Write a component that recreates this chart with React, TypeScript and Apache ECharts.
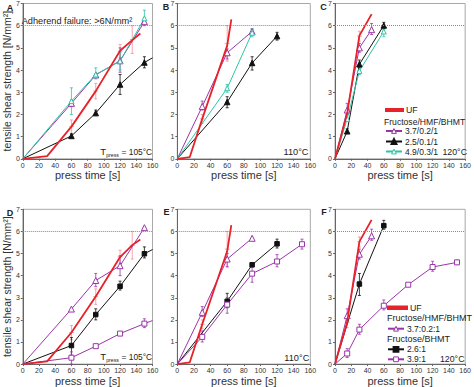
import React, { useEffect, useRef } from 'react';
import * as echarts from 'echarts';

// ---------------- data ----------------
// x: press time [s], y: tensile shear strength [N/mm²]
const X_MIN = 0, X_MAX = 160, X_STEP = 20;
const Y_MIN = 0, Y_MAX = 7, Y_STEP = 1;
const ADHEREND_LIMIT = 6;

// Panel A (105 °C), Fructose/HMF/BHMT
const A_UF = [[0, 0], [30, 0.12], [60, 1.45], [90, 3.05], [120, 4.87], [135, 5.35], [145, 5.65]];
const A_P = [[0, 0], [60, 2.5], [90, 3.78], [120, 4.42], [150, 6.18]];
const A_K = [[0, 0], [60, 1.03], [90, 2.06], [120, 3.35], [150, 4.34], [160, 4.55]];
const A_C = [[0, 0], [60, 2.6], [90, 3.8], [120, 4.4], [150, 6.33]];
// Panel B (110 °C)
const B_UF = [[0, 0], [15, 0.08], [30, 1.8], [60, 5.1], [65, 6.28]];
const B_P = [[0, 0], [30, 2.36], [60, 4.78], [90, 5.74]];
const B_K = [[0, 0], [60, 2.56], [90, 4.32], [120, 5.53]];
const B_C = [[0, 0], [60, 3.18], [90, 5.68]];
// Panel C (120 °C)
const C_UF = [[0, 0], [15, 2.05], [30, 5.55], [45, 6.52]];
const C_P = [[0, 0], [15, 2.2], [30, 5.0], [45, 5.82]];
const C_K = [[0, 0], [15, 1.24], [30, 4.26], [60, 6.01]];
const C_C = [[0, 0], [15, 1.8], [30, 3.96], [60, 5.74]];
// Panel D (105 °C), Fructose/BHMT
const D_UF = [[0, 0], [30, 0.12], [60, 1.43], [90, 3.06], [120, 4.84], [135, 5.38], [145, 5.63]];
const D_P = [[0, 0], [60, 2.49], [90, 3.78], [120, 4.45], [150, 6.17]];
const D_K = [[0, 0], [60, 0.84], [90, 2.24], [120, 3.52], [150, 4.99], [160, 5.18]];
const D_Q = [[0, 0], [60, 0.29], [90, 0.81], [120, 1.38], [150, 1.83], [160, 1.97]];
// Panel E (110 °C)
const E_UF = [[0, 0], [15, 0.08], [30, 1.8], [60, 5.1], [65, 6.28]];
const E_P = [[0, 0], [30, 2.34], [60, 4.75], [90, 5.69]];
const E_K = [[0, 0], [60, 2.84], [90, 4.49], [120, 5.44]];
const E_Q = [[0, 0], [30, 1.23], [60, 2.69], [90, 4.09], [120, 4.64], [150, 5.42]];
// Panel F (120 °C)
const F_UF = [[0, 0], [15, 1.9], [30, 5.54], [45, 6.52]];
const F_P = [[0, 0], [15, 2.19], [30, 4.97], [45, 5.8]];
const F_K = [[0, 0], [30, 3.62], [60, 6.26]];
const F_Q = [[0, 0], [15, 0.48], [30, 1.56], [60, 2.64], [90, 3.59], [120, 4.39], [150, 4.6]];

// error bars: [x, low, high]
const A_UF_E = [[60, 1.15, 1.75], [90, 2.7, 3.4], [120, 4.55, 5.15], [135, 4.75, 6.0]];
const A_P_E = [[60, 2.35, 2.65], [120, 3.9, 5.0], [150, 6.0, 6.35]];
const A_K_E = [[60, 0.95, 1.12], [90, 1.95, 2.2], [120, 2.9, 3.8], [150, 4.1, 4.6]];
const A_C_E = [[60, 2.0, 3.2], [90, 3.6, 4.1], [120, 4.0, 4.8], [150, 6.05, 6.7]];
const B_UF_E = [[30, 1.6, 2.0], [60, 4.4, 6.0]];
const B_P_E = [[30, 2.2, 2.6], [60, 4.5, 4.95], [90, 5.6, 5.85]];
const B_K_E = [[60, 2.3, 2.8], [90, 4.0, 4.6], [120, 5.35, 5.7]];
const B_C_E = [[60, 3.0, 3.35], [90, 5.5, 5.85]];
const C_UF_E = [[30, 5.3, 5.75]];
const C_P_E = [[15, 2.0, 2.5], [30, 4.8, 5.2], [45, 5.6, 6.1]];
const C_K_E = [[15, 1.15, 1.35], [30, 4.1, 4.45], [60, 5.85, 6.15]];
const C_C_E = [[30, 3.8, 4.1], [60, 5.5, 5.9]];
const D_UF_E = [[60, 1.1, 1.75], [90, 2.7, 3.4], [120, 4.55, 5.15], [135, 4.75, 6.0]];
const D_P_E = [[90, 3.5, 4.1], [120, 4.0, 4.9]];
const D_K_E = [[60, 0.4, 1.2], [90, 2.0, 2.5], [120, 3.35, 3.75], [150, 4.8, 5.3]];
const D_Q_E = [[60, 0.0, 0.55], [150, 1.65, 2.05]];
const E_UF_E = [[30, 1.6, 2.0], [60, 4.4, 6.0]];
const E_P_E = [[30, 2.15, 2.6], [60, 4.4, 5.0]];
const E_K_E = [[60, 2.55, 3.2], [120, 5.25, 5.65]];
const E_Q_E = [[30, 1.0, 1.5], [60, 2.3, 3.0], [90, 3.7, 4.4], [120, 4.4, 4.95], [150, 5.2, 5.65]];
const F_UF_E = [[15, 1.65, 2.1], [30, 5.3, 5.75]];
const F_P_E = [[15, 1.95, 2.5], [30, 4.75, 5.2], [45, 5.6, 6.1]];
const F_K_E = [[30, 3.1, 4.1], [60, 6.1, 6.5]];
const F_Q_E = [[15, 0.3, 0.7], [30, 1.35, 1.8], [60, 2.45, 2.9], [120, 4.2, 4.65], [150, 4.5, 4.7]];

const PANEL_LETTERS = ['A', 'B', 'C', 'D', 'E', 'F'];
const TEMP_105 = '= 105°C';
const TEMP_110 = '110°C';
const TEMP_120 = '120°C';
const NAME_UF = 'UF';
const NAMES_TOP = ['3.7/0.2/1', '2.5/0.1/1', '4.9/0.3/1'];
const NAMES_BOT = ['3.7:0.2:1', '2.6:1', '3.9:1'];
const HEAD_HMF = 'Fructose/HMF/BHMT';
const HEAD_BHMT = 'Fructose/BHMT';

// ---------------- styling ----------------
const FONT = '"Liberation Sans", Arial, Helvetica, sans-serif';
const RED = '#e8222a';
const RED_ERR = '#f29090';
const PURPLE = '#9a35a8';
const CYAN = '#2ec4a6';
const BLACK = '#111111';

const GRID_LEFTS = [19.5, 177.3, 335];
const GRID_TOPS = [3.5, 209.3];
const GRID_W = 133;
const GRID_H = 155.3;

function pts(data: number[][]) {
  return data.map((d) => (d[0] === 0 || d[0] >= 160 ? { value: d, symbol: 'none' } : d));
}

function lineS(name: string, data: number[][], gi: number, color: string, symbol: string, size: number, width = 1, z = 3): any {
  const empty = symbol.startsWith('empty');
  return {
    type: 'line', name, xAxisIndex: gi, yAxisIndex: gi, data: pts(data),
    symbol: empty ? symbol.replace('empty', '').toLowerCase() : symbol,
    symbolSize: size, showAllSymbol: true, z,
    lineStyle: { color, width },
    itemStyle: { color: empty ? '#ffffff' : color, borderColor: color, borderWidth: 1 },
    emphasis: { disabled: true },
  };
}

function errS(data: number[][], gi: number, color: string, xerr = 0): any {
  return {
    type: 'custom', name: 'err' + gi + color, xAxisIndex: gi, yAxisIndex: gi, silent: true, z: 2,
    data, encode: { x: 0, y: [1, 2] },
    renderItem: (_p: any, api: any) => {
      const x = api.value(0), lo = api.value(1), hi = api.value(2);
      const a = api.coord([x, lo]);
      const b = api.coord([x, hi]);
      const st = { stroke: color, lineWidth: 0.8 };
      const w = 1.5;
      const ch: any[] = [
        { type: 'line', shape: { x1: a[0], y1: a[1], x2: b[0], y2: b[1] }, style: st },
        { type: 'line', shape: { x1: a[0] - w, y1: a[1], x2: a[0] + w, y2: a[1] }, style: st },
        { type: 'line', shape: { x1: b[0] - w, y1: b[1], x2: b[0] + w, y2: b[1] }, style: st },
      ];
      if (xerr) {
        const m = api.coord([x - xerr, (lo + hi) / 2]);
        const n = api.coord([x + xerr, (lo + hi) / 2]);
        ch.push({ type: 'line', shape: { x1: m[0], y1: m[1], x2: n[0], y2: n[1] }, style: st });
      }
      return { type: 'group', children: ch };
    },
  };
}

function legendRow(name: string, left: number, centerY: number, itemWidth = 16, fontSize = 8.5, kind = 'fill', color = BLACK): any {
  let item: any = name;
  if (kind === 'line') item = { name, icon: 'path://M0,0H20V2.6H0Z', itemStyle: { color: RED } };
  if (kind === 'empty') item = { name, itemStyle: { color: '#ffffff', borderColor: color, borderWidth: 1 } };
  return {
    show: true, left, top: centerY - 6, orient: 'horizontal', padding: 0,
    itemWidth, itemHeight: 6, itemGap: 0, selectedMode: false,
    data: [item],
    textStyle: { fontSize, fontFamily: FONT, color: '#222', lineHeight: 12, padding: [0, 0, 0, -2] },
  };
}

function txt(x: number, y: number, text: string, fontSize: number, align = 'left', weight = 'normal'): any {
  return {
    type: 'text', x, y, silent: true,
    style: { text, fontSize, fontFamily: FONT, fill: '#222', align, verticalAlign: 'middle', fontWeight: weight },
  };
}

export default function App() {
  const ref = useRef<HTMLDivElement>(null);
  useEffect(() => {
    if (!ref.current) return;
    const chart = echarts.init(ref.current, undefined, { renderer: 'svg' });
    const grids: any[] = [], xAxes: any[] = [], yAxes: any[] = [];
    for (let i = 0; i < 6; i++) {
      const row = Math.floor(i / 3), col = i % 3;
      grids.push({ left: GRID_LEFTS[col], top: GRID_TOPS[row], width: GRID_W, height: GRID_H, show: true, borderColor: '#a8a8a8', borderWidth: 1, containLabel: false });
      xAxes.push({
        type: 'value', gridIndex: i, min: X_MIN, max: X_MAX, interval: X_STEP,
        name: 'press time [s]', nameLocation: 'middle', nameGap: 10,
        nameTextStyle: { fontSize: 11, fontFamily: FONT, color: '#333' },
        axisLine: { show: true, lineStyle: { color: '#666' } },
        axisTick: { show: true, inside: false, length: 2, lineStyle: { color: '#666' } },
        axisLabel: { fontSize: 7, fontFamily: FONT, color: '#333', margin: 3 },
        splitLine: { show: false },
      });
      yAxes.push({
        type: 'value', gridIndex: i, min: Y_MIN, max: Y_MAX, interval: Y_STEP,
        name: col === 0 ? 'tensile shear strength [N/mm²]' : '', nameLocation: 'middle', nameGap: 8, nameRotate: 90,
        nameTextStyle: { fontSize: 10.5, fontFamily: FONT, color: '#333' },
        axisLine: { show: true, lineStyle: { color: '#666' } },
        axisTick: { show: true, inside: false, length: 2, lineStyle: { color: '#666' } },
        axisLabel: { fontSize: 7, fontFamily: FONT, color: '#333', margin: 3 },
        splitLine: { show: false },
      });
    }

    const limitLine = {
      silent: true, symbol: 'none', label: { show: false },
      lineStyle: { type: 'dotted', color: '#8a8a8a', width: 1 },
      data: [{ yAxis: ADHEREND_LIMIT }],
    };
    const ufS = (data: number[][], gi: number) => ({
      ...lineS(NAME_UF, data, gi, RED, 'none', 0, 1.8, 4),
      markLine: limitLine,
    });

    const TRI = 5.5, OTRI = 6, SQ = 4.5, OSQ = 5;
    const series: any[] = [
      // A
      errS(A_UF_E, 0, RED_ERR, 3), errS(A_P_E, 0, PURPLE), errS(A_K_E, 0, BLACK), errS(A_C_E, 0, CYAN),
      lineS(NAMES_TOP[1], A_K, 0, BLACK, 'triangle', TRI),
      lineS(NAMES_TOP[0], A_P, 0, PURPLE, 'emptyTriangle', OTRI),
      lineS(NAMES_TOP[2], A_C, 0, CYAN, 'emptyTriangle', 5),
      ufS(A_UF, 0),
      // B
      errS(B_UF_E, 1, RED_ERR, 3), errS(B_P_E, 1, PURPLE), errS(B_K_E, 1, BLACK), errS(B_C_E, 1, CYAN),
      lineS(NAMES_TOP[1], B_K, 1, BLACK, 'triangle', TRI),
      lineS(NAMES_TOP[0], B_P, 1, PURPLE, 'emptyTriangle', OTRI),
      lineS(NAMES_TOP[2], B_C, 1, CYAN, 'emptyTriangle', 5),
      ufS(B_UF, 1),
      // C
      errS(C_UF_E, 2, RED_ERR, 3), errS(C_P_E, 2, PURPLE), errS(C_K_E, 2, BLACK), errS(C_C_E, 2, CYAN),
      lineS(NAMES_TOP[1], C_K, 2, BLACK, 'triangle', TRI),
      lineS(NAMES_TOP[0], C_P, 2, PURPLE, 'emptyTriangle', OTRI),
      lineS(NAMES_TOP[2], C_C, 2, CYAN, 'emptyTriangle', 5),
      ufS(C_UF, 2),
      // D
      errS(D_UF_E, 3, RED_ERR, 3), errS(D_P_E, 3, PURPLE), errS(D_K_E, 3, BLACK), errS(D_Q_E, 3, PURPLE),
      lineS(NAMES_BOT[1], D_K, 3, BLACK, 'rect', SQ),
      lineS(NAMES_BOT[2], D_Q, 3, PURPLE, 'emptyRect', OSQ),
      lineS(NAMES_BOT[0], D_P, 3, PURPLE, 'emptyTriangle', OTRI),
      ufS(D_UF, 3),
      // E
      errS(E_UF_E, 4, RED_ERR, 3), errS(E_P_E, 4, PURPLE), errS(E_K_E, 4, BLACK), errS(E_Q_E, 4, PURPLE),
      lineS(NAMES_BOT[1], E_K, 4, BLACK, 'rect', SQ),
      lineS(NAMES_BOT[2], E_Q, 4, PURPLE, 'emptyRect', OSQ),
      lineS(NAMES_BOT[0], E_P, 4, PURPLE, 'emptyTriangle', OTRI),
      ufS(E_UF, 4),
      // F
      errS(F_UF_E, 5, RED_ERR, 3), errS(F_P_E, 5, PURPLE), errS(F_K_E, 5, BLACK), errS(F_Q_E, 5, PURPLE),
      lineS(NAMES_BOT[1], F_K, 5, BLACK, 'rect', SQ),
      lineS(NAMES_BOT[2], F_Q, 5, PURPLE, 'emptyRect', OSQ),
      lineS(NAMES_BOT[0], F_P, 5, PURPLE, 'emptyTriangle', OTRI),
      ufS(F_UF, 5),
    ];

    const legends = [
      legendRow(NAME_UF, 385, 110, 17, 8.8, 'line'),
      legendRow(NAMES_TOP[0], 385, 131, 16, 8.5, 'empty', PURPLE),
      legendRow(NAMES_TOP[1], 385, 141.5, 16),
      legendRow(NAMES_TOP[2], 385, 151.5, 16, 8.5, 'empty', CYAN),
      legendRow(NAME_UF, 387, 307.7, 19, 8.8, 'line'),
      legendRow(NAMES_BOT[0], 387, 328.7, 16, 8.5, 'empty', PURPLE),
      legendRow(NAMES_BOT[1], 387, 349.3, 16),
      legendRow(NAMES_BOT[2], 387, 359.3, 16, 8.5, 'empty', PURPLE),
    ];

    const graphics: any[] = [];
    const letterPos = [[10, 7.5], [166, 6.5], [323.5, 6.5], [10, 213], [166.5, 212], [324, 212]];
    PANEL_LETTERS.forEach((l, i) => graphics.push(txt(letterPos[i][0], letterPos[i][1], l, 9, 'center', 'bold')));
    graphics.push(txt(21.7, 20.5, 'Adherend failure: >6N/mm²', 9.2));
    // temperature labels
    [151.7, 356.7].forEach((yc) => {
      graphics.push(txt(100.2, yc, 'T', 9.6));
      graphics.push(txt(106.2, yc + 3.2, 'press', 5.2));
      graphics.push(txt(121.5, yc, TEMP_105, 8.4));
    });
    graphics.push(txt(308.5, 152, TEMP_110, 9.2, 'right'));
    graphics.push(txt(309.3, 358.3, TEMP_110, 9.2, 'right'));
    graphics.push(txt(384, 122, HEAD_HMF, 8.6));
    graphics.push(txt(467, 151.5, TEMP_120, 8.8, 'right'));
    graphics.push(txt(387, 317.7, HEAD_HMF, 9));
    graphics.push(txt(387, 339.3, HEAD_BHMT, 9));
    graphics.push(txt(464.5, 359.3, TEMP_120, 8.8, 'right'));

    chart.setOption({
      animation: false,
      backgroundColor: '#ffffff',
      textStyle: { fontFamily: FONT },
      grid: grids, xAxis: xAxes, yAxis: yAxes,
      legend: legends,
      series,
      graphic: graphics,
    });
    return () => chart.dispose();
  }, []);
  return <div ref={ref} style={{ position: 'absolute', left: 0, top: 0, width: 474, height: 387, background: '#fff' }} />;
}
